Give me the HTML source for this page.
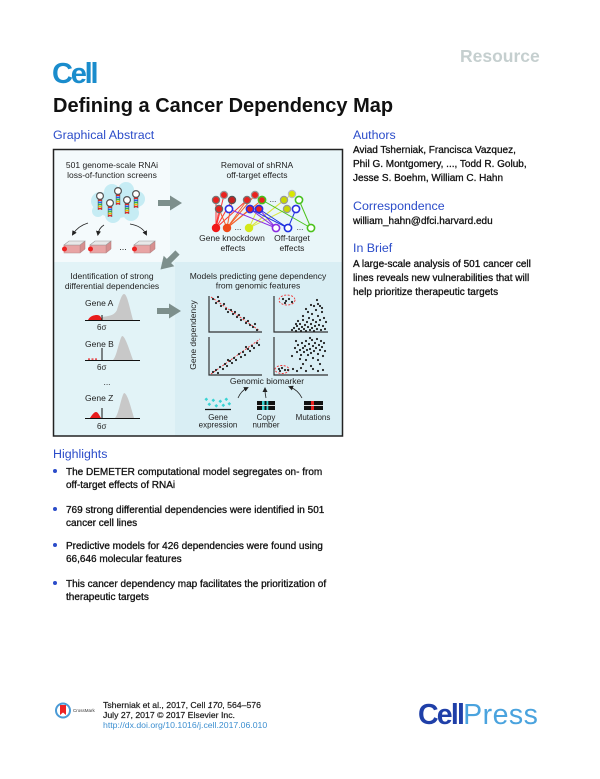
<!DOCTYPE html>
<html><head><meta charset="utf-8">
<style>
html,body{margin:0;padding:0;background:#fff;}
body{width:600px;height:779px;position:relative;overflow:hidden;font-family:"Liberation Sans",Arial,sans-serif;}
.a{position:absolute;white-space:nowrap;}
.h{color:#2b4cc9;font-size:12.4px;}
.t{font-size:10px;line-height:14px;color:#111;-webkit-text-stroke:0.3px #111;}
.hl{font-size:10px;line-height:13px;color:#111;-webkit-text-stroke:0.3px #111;}
.b{position:absolute;width:4px;height:4px;border-radius:50%;background:#2b4cc9;}
.f{font-size:8.7px;line-height:10px;color:#1a1a1a;-webkit-text-stroke:0.2px #1a1a1a;}
</style></head><body>

<div class="a" style="left:460px;top:46px;font-size:17.5px;font-weight:bold;color:#c5cfcf;line-height:20px;">Resource</div>
<div class="a" style="left:52px;top:58px;font-size:29px;font-weight:bold;color:#1a8ccc;letter-spacing:-2.2px;line-height:32px;">Cell</div>
<div class="a" style="left:53px;top:94px;font-size:20px;font-weight:bold;color:#111;line-height:24px;">Defining a Cancer Dependency Map</div>

<div class="a h" style="left:53px;top:127px;line-height:16px;">Graphical Abstract</div>
<div class="a h" style="left:353px;top:127px;line-height:16px;">Authors</div>
<div class="a t" style="left:353px;top:144px;">Aviad Tsherniak, Francisca Vazquez,<br>Phil G. Montgomery, ..., Todd R. Golub,<br>Jesse S. Boehm, William C. Hahn</div>
<div class="a h" style="left:353px;top:198px;line-height:16px;">Correspondence</div>
<div class="a t" style="left:353px;top:215px;">william_hahn@dfci.harvard.edu</div>
<div class="a h" style="left:353px;top:240px;line-height:16px;">In Brief</div>
<div class="a t" style="left:353px;top:258px;">A large-scale analysis of 501 cancer cell<br>lines reveals new vulnerabilities that will<br>help prioritize therapeutic targets</div>

<div class="a h" style="left:53px;top:446px;line-height:16px;">Highlights</div>
<div class="b" style="left:53px;top:469px;"></div>
<div class="a hl" style="left:66px;top:465.5px;">The DEMETER computational model segregates on- from<br>off-target effects of RNAi</div>
<div class="b" style="left:53px;top:507px;"></div>
<div class="a hl" style="left:66px;top:503.5px;">769 strong differential dependencies were identified in 501<br>cancer cell lines</div>
<div class="b" style="left:53px;top:543px;"></div>
<div class="a hl" style="left:66px;top:539.5px;">Predictive models for 426 dependencies were found using<br>66,646 molecular features</div>
<div class="b" style="left:53px;top:581px;"></div>
<div class="a hl" style="left:66px;top:577.5px;">This cancer dependency map facilitates the prioritization of<br>therapeutic targets</div>

<div class="a f" style="left:103px;top:700px;">Tsherniak et al., 2017, Cell <i>170</i>, 564–576<br>July 27, 2017 © 2017 Elsevier Inc.<br><span style="color:#3d8fd0;-webkit-text-stroke:0;">http://dx.doi.org/10.1016/j.cell.2017.06.010</span></div>
<div class="a" style="left:73px;top:708px;font-size:4.5px;color:#333;line-height:6px;">CrossMark</div>
<div class="a" style="left:418px;top:699px;font-size:28.5px;line-height:33px;"><span style="font-weight:bold;color:#1f3fa8;letter-spacing:-1.8px;">Cell</span><span style="color:#4aa3de;letter-spacing:0.5px;">Press</span></div>

<svg class="a" style="left:0;top:0;" width="600" height="779" viewBox="0 0 600 779" xmlns="http://www.w3.org/2000/svg">
<defs>
<marker id="ah" markerWidth="5" markerHeight="5" refX="3" refY="2.5" orient="auto" markerUnits="userSpaceOnUse"><path d="M0,0 L5,2.5 L0,5 Z" fill="#222"/></marker>
<g id="hp">
<line x1="-1.8" y1="3" x2="-1.8" y2="14" stroke="#555" stroke-width="0.8"/>
<line x1="1.8" y1="3" x2="1.8" y2="14" stroke="#555" stroke-width="0.8"/>
<rect x="-1.8" y="3.5" width="3.6" height="1.5" fill="#e22"/>
<rect x="-1.8" y="5.6" width="3.6" height="1.5" fill="#2a5ee8"/>
<rect x="-1.8" y="7.7" width="3.6" height="1.5" fill="#2cb84a"/>
<rect x="-1.8" y="9.8" width="3.6" height="1.5" fill="#f0c000"/>
<rect x="-1.8" y="11.9" width="3.6" height="1.5" fill="#e22"/>
<circle cx="0" cy="0" r="3.4" fill="#fff" stroke="#555" stroke-width="1.2"/>
</g>
<g id="fl">
<polygon points="18,5 23,1 23,9 18,13" fill="#d78f8f" stroke="#a77" stroke-width="0.5"/>
<rect x="2" y="5" width="16" height="8" fill="#e8a4a4" stroke="#b88" stroke-width="0.5"/>
<polygon points="2,5 7,1 23,1 18,5" fill="#e8e8e8" stroke="#999" stroke-width="0.6"/>
<circle cx="2.5" cy="9" r="2.5" fill="#e22"/>
</g>
<g id="ar"><rect x="-12" y="-3" width="14" height="6" fill="#7d8f8c"/><polygon points="0,-7.5 12,0 0,7.5" fill="#7d8f8c"/></g>
</defs>

<rect x="53" y="149" width="117" height="113" fill="#f4fafc"/>
<rect x="170" y="149" width="172" height="113" fill="#e9f6f9"/>
<rect x="53" y="262" width="122" height="174" fill="#e2f3f7"/>
<rect x="175" y="262" width="167" height="174" fill="#d9eef4"/>
<rect x="53.5" y="149.5" width="289" height="286.5" fill="none" stroke="#222" stroke-width="1.5"/>

<g font-family="Liberation Sans, Arial, sans-serif" font-size="8.5" fill="#222" text-anchor="middle">
<text x="112" y="168">501 genome-scale RNAi</text>
<text x="112" y="178">loss-of-function screens</text>
<text x="257" y="168">Removal of shRNA</text>
<text x="257" y="178">off-target effects</text>
<text x="232" y="241">Gene knockdown</text>
<text x="233" y="251">effects</text>
<text x="292" y="241">Off-target</text>
<text x="292" y="251">effects</text>
<text x="112" y="279">Identification of strong</text>
<text x="112" y="289">differential dependencies</text>
<text x="258" y="279">Models predicting gene dependency</text>
<text x="258" y="288.5">from genomic features</text>
<text x="267" y="384">Genomic biomarker</text>
<text x="218" y="420" font-size="8">Gene</text>
<text x="218" y="427.5" font-size="8">expression</text>
<text x="266" y="420" font-size="8">Copy</text>
<text x="266" y="427.5" font-size="8">number</text>
<text x="313" y="420" font-size="8">Mutations</text>
<text transform="translate(196,335) rotate(-90)">Gene dependency</text>
</g>

<g fill="#c6ecf4">
<ellipse cx="117" cy="204" rx="23" ry="14"/>
<circle cx="100" cy="201" r="9"/><circle cx="112" cy="192" r="8"/><circle cx="126" cy="190" r="8"/>
<circle cx="137" cy="199" r="8"/><circle cx="131" cy="213" r="8"/><circle cx="113" cy="215" r="8"/><circle cx="98" cy="211" r="6"/>
</g>
<use href="#hp" x="100" y="196"/>
<use href="#hp" x="110" y="203"/>
<use href="#hp" x="118" y="191"/>
<use href="#hp" x="127" y="200"/>
<use href="#hp" x="136" y="194"/>

<g fill="none" stroke="#222" stroke-width="0.8" marker-end="url(#ah)">
<path d="M88,223 Q78,226 73,234"/>
<path d="M104,225 Q99,228 98,234"/>
<path d="M130,224 Q142,226 146,234"/>
</g>
<use href="#fl" x="62" y="240"/>
<use href="#fl" x="88" y="240"/>
<use href="#fl" x="132" y="240"/>
<text x="123" y="250" font-family="Liberation Sans, Arial, sans-serif" font-size="9" text-anchor="middle" fill="#222">...</text>

<use href="#ar" transform="translate(170,203)"/>
<use href="#ar" transform="translate(169,261) rotate(135)"/>
<use href="#ar" transform="translate(169,311)"/>

<g stroke-width="1" fill="none">
<g stroke="#f33"><line x1="216" y1="228" x2="216" y2="200"/><line x1="216" y1="228" x2="224" y2="195"/><line x1="216" y1="228" x2="232" y2="200"/><line x1="216" y1="228" x2="219" y2="209"/><line x1="216" y1="228" x2="247" y2="200"/></g>
<g stroke="#f5602a"><line x1="227" y1="228" x2="232" y2="200"/><line x1="227" y1="228" x2="247" y2="200"/><line x1="227" y1="228" x2="255" y2="195"/><line x1="227" y1="228" x2="262" y2="200"/><line x1="227" y1="228" x2="250" y2="209"/><line x1="227" y1="228" x2="219" y2="209"/></g>
<g stroke="#dbe640"><line x1="249" y1="228" x2="284" y2="200"/><line x1="249" y1="228" x2="292" y2="194"/><line x1="249" y1="228" x2="287" y2="209"/><line x1="249" y1="228" x2="262" y2="200"/></g>
<g stroke="#8a2be2"><line x1="276" y1="228" x2="229" y2="209"/><line x1="276" y1="228" x2="250" y2="209"/><line x1="276" y1="228" x2="259" y2="209"/></g>
<g stroke="#1d2fe0"><line x1="288" y1="228" x2="259" y2="209"/><line x1="288" y1="228" x2="296" y2="209"/><line x1="288" y1="228" x2="250" y2="209"/></g>
<g stroke="#4cc21c"><line x1="311" y1="228" x2="262" y2="200"/><line x1="311" y1="228" x2="299" y2="200"/></g>
</g>
<g stroke-width="1.2">
<circle cx="216" cy="200" r="3.6" fill="#e8231f" stroke="#777"/>
<circle cx="224" cy="195" r="3.6" fill="#e8231f" stroke="#999"/>
<circle cx="232" cy="200" r="3.6" fill="#c42020" stroke="#555"/>
<circle cx="219" cy="209" r="3.6" fill="#e8231f" stroke="#666"/>
<circle cx="229" cy="209" r="3.6" fill="#fff" stroke="#2a2ee0" stroke-width="1.6"/>
<circle cx="247" cy="200" r="3.6" fill="#e8231f" stroke="#777"/>
<circle cx="255" cy="195" r="3.6" fill="#e8231f" stroke="#999"/>
<circle cx="262" cy="200" r="3.6" fill="#e8231f" stroke="#46c01c" stroke-width="1.6"/>
<circle cx="250" cy="209" r="3.6" fill="#e8231f" stroke="#2a2ee0" stroke-width="1.6"/>
<circle cx="259" cy="209" r="3.6" fill="#e8231f" stroke="#2a2ee0" stroke-width="1.6"/>
<circle cx="284" cy="200" r="3.6" fill="#c9d800" stroke="#999"/>
<circle cx="292" cy="194" r="3.6" fill="#d8e600" stroke="#bbb"/>
<circle cx="299" cy="200" r="3.6" fill="#fff" stroke="#46c01c" stroke-width="1.6"/>
<circle cx="287" cy="209" r="3.6" fill="#c9d800" stroke="#999"/>
<circle cx="296" cy="209" r="3.6" fill="#fff" stroke="#2a2ee0" stroke-width="1.6"/>
<circle cx="216" cy="228" r="3.6" fill="#f01818" stroke="#f01818"/>
<circle cx="227" cy="228" r="3.6" fill="#f04a1a" stroke="#f04a1a"/>
<circle cx="249" cy="228" r="3.6" fill="#d4e81a" stroke="#d4e81a"/>
<circle cx="276" cy="228" r="3.6" fill="#fff" stroke="#8a2be2" stroke-width="1.6"/>
<circle cx="288" cy="228" r="3.6" fill="#fff" stroke="#1d2fe0" stroke-width="1.6"/>
<circle cx="311" cy="228" r="3.6" fill="#fff" stroke="#4cc21c" stroke-width="1.6"/>
</g>
<g font-family="Liberation Sans, Arial, sans-serif" font-size="8" fill="#222" text-anchor="middle">
<text x="273" y="202">...</text><text x="238" y="230">...</text><text x="300" y="230">...</text>
</g>

<g font-family="Liberation Sans, Arial, sans-serif" font-size="8.5" fill="#222">
<text x="85" y="306">Gene A</text>
<text x="85" y="347">Gene B</text>
<text x="85" y="401">Gene Z</text>
<text x="97" y="330" font-size="8">6σ</text>
<text x="97" y="370" font-size="8">6σ</text>
<text x="97" y="429" font-size="8">6σ</text>
<text x="107" y="385" text-anchor="middle">...</text>
</g>
<path d="M102,320 L102,317 C108,316 114,316 117,310 C120,300 122,294 124,294 C127,294 129,305 133,320 Z" fill="#c8c8c8"/>
<path d="M88,320 C90,316 94,315 97,315 C100,315 101,317 102,320 Z" fill="#e81c1c"/>
<path d="M113,360 C117,356 119,340 122,336 C125,336 128,346 133,360 Z" fill="#c8c8c8"/>
<path d="M115,418 C119,414 121,397 124,393 C127,393 130,404 134,418 Z" fill="#c8c8c8"/>
<path d="M90,418 C92,415 94,412 96,412 C98,412 99,415 101,418 Z" fill="#e81c1c"/>
<g fill="#e81c1c"><rect x="88" y="358.5" width="2" height="1.2"/><rect x="91.5" y="358.5" width="2" height="1.2"/><rect x="95" y="358.5" width="2" height="1.2"/></g>
<g stroke="#111" stroke-width="1">
<line x1="85" y1="320.5" x2="140" y2="320.5"/><line x1="102" y1="315" x2="102" y2="321"/>
<line x1="85" y1="360.5" x2="140" y2="360.5"/><line x1="102" y1="348" x2="102" y2="361"/>
<line x1="85" y1="418.5" x2="140" y2="418.5"/><line x1="102" y1="408" x2="102" y2="419"/>
</g>

<g stroke="#333" stroke-width="1.2" fill="none">
<polyline points="209,296 209,332 262,332"/>
<polyline points="274,296 274,332 328,332"/>
<polyline points="209,337 209,375 262,375"/>
<polyline points="274,337 274,375 328,375"/>
</g>
<g stroke="#e33" stroke-width="0.9" stroke-dasharray="2,1.5" fill="none">
<line x1="211" y1="297" x2="260" y2="331"/>
<line x1="211" y1="374" x2="260" y2="339"/>
<ellipse cx="287" cy="300" rx="8" ry="5"/>
<ellipse cx="282" cy="369.5" rx="7" ry="4"/>
</g>
<g fill="#222">
<circle cx="213" cy="299" r="1.1"/><circle cx="216" cy="303" r="1.1"/><circle cx="219" cy="301" r="1.1"/><circle cx="221" cy="306" r="1.1"/><circle cx="224" cy="304" r="1.1"/><circle cx="226" cy="309" r="1.1"/><circle cx="228" cy="312" r="1.1"/><circle cx="231" cy="310" r="1.1"/><circle cx="233" cy="314" r="1.1"/><circle cx="235" cy="312" r="1.1"/><circle cx="237" cy="317" r="1.1"/><circle cx="239" cy="315" r="1.1"/><circle cx="241" cy="320" r="1.1"/><circle cx="244" cy="318" r="1.1"/><circle cx="246" cy="323" r="1.1"/><circle cx="248" cy="321" r="1.1"/><circle cx="250" cy="325" r="1.1"/><circle cx="253" cy="327" r="1.1"/><circle cx="255" cy="324" r="1.1"/><circle cx="257" cy="330" r="1.1"/><circle cx="218" cy="297" r="1.1"/>
<circle cx="292" cy="330" r="1.1"/><circle cx="294" cy="328" r="1.1"/><circle cx="296" cy="331" r="1.1"/><circle cx="297" cy="326" r="1.1"/><circle cx="299" cy="329" r="1.1"/><circle cx="300" cy="324" r="1.1"/><circle cx="301" cy="331" r="1.1"/><circle cx="302" cy="327" r="1.1"/><circle cx="303" cy="320" r="1.1"/><circle cx="304" cy="329" r="1.1"/><circle cx="305" cy="325" r="1.1"/><circle cx="306" cy="331" r="1.1"/><circle cx="307" cy="322" r="1.1"/><circle cx="308" cy="327" r="1.1"/><circle cx="309" cy="318" r="1.1"/><circle cx="310" cy="330" r="1.1"/><circle cx="311" cy="324" r="1.1"/><circle cx="312" cy="314" r="1.1"/><circle cx="312" cy="328" r="1.1"/><circle cx="313" cy="320" r="1.1"/><circle cx="314" cy="331" r="1.1"/><circle cx="315" cy="326" r="1.1"/><circle cx="316" cy="310" r="1.1"/><circle cx="316" cy="322" r="1.1"/><circle cx="317" cy="329" r="1.1"/><circle cx="318" cy="316" r="1.1"/><circle cx="319" cy="325" r="1.1"/><circle cx="320" cy="306" r="1.1"/><circle cx="320" cy="320" r="1.1"/><circle cx="321" cy="330" r="1.1"/><circle cx="322" cy="312" r="1.1"/><circle cx="323" cy="326" r="1.1"/><circle cx="324" cy="318" r="1.1"/><circle cx="325" cy="329" r="1.1"/><circle cx="318" cy="304" r="1.1"/><circle cx="314" cy="306" r="1.1"/><circle cx="308" cy="312" r="1.1"/><circle cx="322" cy="308" r="1.1"/><circle cx="326" cy="322" r="1.1"/><circle cx="298" cy="321" r="1.1"/><circle cx="303" cy="316" r="1.1"/><circle cx="306" cy="309" r="1.1"/><circle cx="296" cy="324" r="1.1"/><circle cx="311" cy="305" r="1.1"/><circle cx="317" cy="300" r="1.1"/>
<circle cx="283" cy="299" r="1.1"/><circle cx="286" cy="301" r="1.1"/><circle cx="289" cy="299" r="1.1"/><circle cx="292" cy="302" r="1.1"/><circle cx="285" cy="303" r="1.1"/>
<circle cx="213" cy="372" r="1.1"/><circle cx="216" cy="370" r="1.1"/><circle cx="218" cy="373" r="1.1"/><circle cx="220" cy="367" r="1.1"/><circle cx="223" cy="369" r="1.1"/><circle cx="225" cy="364" r="1.1"/><circle cx="227" cy="366" r="1.1"/><circle cx="230" cy="361" r="1.1"/><circle cx="232" cy="363" r="1.1"/><circle cx="234" cy="358" r="1.1"/><circle cx="236" cy="360" r="1.1"/><circle cx="239" cy="354" r="1.1"/><circle cx="241" cy="357" r="1.1"/><circle cx="243" cy="352" r="1.1"/><circle cx="245" cy="355" r="1.1"/><circle cx="248" cy="349" r="1.1"/><circle cx="250" cy="351" r="1.1"/><circle cx="252" cy="346" r="1.1"/><circle cx="254" cy="348" r="1.1"/><circle cx="257" cy="343" r="1.1"/><circle cx="259" cy="345" r="1.1"/><circle cx="246" cy="347" r="1.1"/><circle cx="228" cy="360" r="1.1"/>
<circle cx="295" cy="348" r="1.1"/><circle cx="297" cy="352" r="1.1"/><circle cx="298" cy="345" r="1.1"/><circle cx="300" cy="350" r="1.1"/><circle cx="301" cy="355" r="1.1"/><circle cx="302" cy="343" r="1.1"/><circle cx="303" cy="348" r="1.1"/><circle cx="304" cy="352" r="1.1"/><circle cx="305" cy="346" r="1.1"/><circle cx="306" cy="341" r="1.1"/><circle cx="307" cy="350" r="1.1"/><circle cx="308" cy="355" r="1.1"/><circle cx="309" cy="344" r="1.1"/><circle cx="310" cy="349" r="1.1"/><circle cx="311" cy="353" r="1.1"/><circle cx="312" cy="340" r="1.1"/><circle cx="313" cy="346" r="1.1"/><circle cx="314" cy="351" r="1.1"/><circle cx="315" cy="343" r="1.1"/><circle cx="316" cy="348" r="1.1"/><circle cx="317" cy="339" r="1.1"/><circle cx="318" cy="354" r="1.1"/><circle cx="319" cy="345" r="1.1"/><circle cx="320" cy="350" r="1.1"/><circle cx="321" cy="341" r="1.1"/><circle cx="322" cy="347" r="1.1"/><circle cx="323" cy="356" r="1.1"/><circle cx="324" cy="343" r="1.1"/><circle cx="300" cy="359" r="1.1"/><circle cx="306" cy="360" r="1.1"/><circle cx="313" cy="358" r="1.1"/><circle cx="292" cy="356" r="1.1"/><circle cx="296" cy="341" r="1.1"/><circle cx="310" cy="338" r="1.1"/><circle cx="318" cy="360" r="1.1"/><circle cx="325" cy="351" r="1.1"/><circle cx="303" cy="364" r="1.1"/><circle cx="311" cy="366" r="1.1"/><circle cx="320" cy="364" r="1.1"/>
<circle cx="288" cy="370" r="1.1"/><circle cx="293" cy="369" r="1.1"/><circle cx="297" cy="371" r="1.1"/><circle cx="301" cy="368" r="1.1"/><circle cx="306" cy="371" r="1.1"/><circle cx="313" cy="369" r="1.1"/><circle cx="318" cy="371" r="1.1"/><circle cx="323" cy="370" r="1.1"/>
<circle cx="279" cy="369" r="1.1"/><circle cx="282" cy="368" r="1.1"/><circle cx="285" cy="370" r="1.1"/><circle cx="280" cy="371" r="1.1"/>
</g>

<g fill="none" stroke="#222" stroke-width="0.8" marker-end="url(#ah)">
<path d="M238,398 Q241,391 247,388"/>
<path d="M266,398 Q265,394 265,389"/>
<path d="M302,398 Q298,390 290,387"/>
</g>
<g fill="#39d3d3">
<rect x="205" y="398" width="2.6" height="2.6" transform="rotate(45 206.3 399.3)"/>
<rect x="208" y="403" width="2.6" height="2.6" transform="rotate(45 209.3 404.3)"/>
<rect x="212" y="399" width="2.6" height="2.6" transform="rotate(45 213.3 400.3)"/>
<rect x="215" y="404.5" width="2.6" height="2.6" transform="rotate(45 216.3 405.8)"/>
<rect x="219" y="400" width="2.6" height="2.6" transform="rotate(45 220.3 401.3)"/>
<rect x="222" y="404" width="2.6" height="2.6" transform="rotate(45 223.3 405.3)"/>
<rect x="225" y="398" width="2.6" height="2.6" transform="rotate(45 226.3 399.3)"/>
<rect x="228" y="402.5" width="2.6" height="2.6" transform="rotate(45 229.3 403.8)"/>
</g>
<line x1="205" y1="409.5" x2="231" y2="409.5" stroke="#111" stroke-width="1.2"/>
<g fill="#111"><rect x="257" y="401" width="18" height="4"/><rect x="257" y="406" width="18" height="4"/>
<rect x="304" y="401" width="19" height="4"/><rect x="304" y="406" width="19" height="4"/></g>
<g fill="#39d3d3"><rect x="262" y="401" width="2.5" height="9"/><rect x="266.5" y="401" width="1.8" height="9"/></g>
<g fill="#e82020"><rect x="311" y="401" width="3" height="9"/></g>
<rect x="257" y="405" width="18" height="1" fill="#ddd"/>
<rect x="304" y="405" width="19" height="1" fill="#ddd"/>

<circle cx="63" cy="710.5" r="7" fill="#fff" stroke="#4a9ad6" stroke-width="2"/>
<path d="M60,705 L66,705 L66,715 L63,712.5 L60,715 Z" fill="#e22"/>
</svg>
</body></html>
